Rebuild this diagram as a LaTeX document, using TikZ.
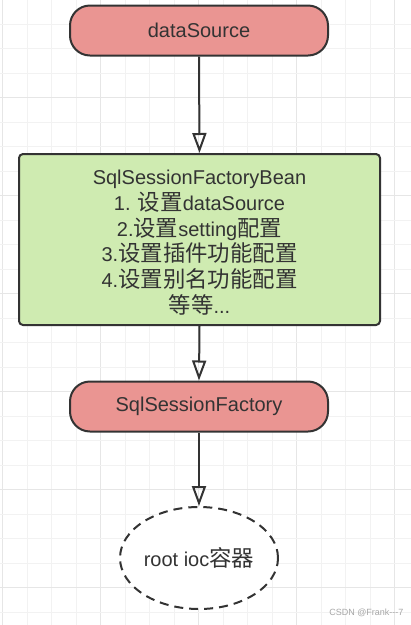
\documentclass[tikz,border=0pt]{standalone}
\usepackage{fontspec}
\setmainfont{Liberation Sans}
\newfontfamily\cjk[Scale=1.12]{Noto Sans CJK SC}
\usetikzlibrary{arrows.meta,shapes.geometric}
\definecolor{redfill}{HTML}{EA9592}
\definecolor{greenfill}{HTML}{CFEBB1}
\definecolor{ink}{HTML}{333333}
\definecolor{gridminor}{HTML}{F2F2F2}
\definecolor{gridmajor}{HTML}{E6E6E6}
\begin{document}
\begin{tikzpicture}[x=1pt,y=-1pt,
  txt/.style={text=ink,font=\fontsize{20}{25.7}\selectfont},
  pill/.style={txt,draw=ink,line width=2pt,fill=redfill,rounded corners=20pt,
     minimum width=258pt,minimum height=50pt,inner sep=0pt},
  bigbox/.style={txt,draw=ink,line width=2pt,fill=greenfill,rounded corners=4pt,
     minimum width=361pt,minimum height=171pt,inner sep=0pt,align=center},
  cloud/.style={txt,draw=ink,line width=2pt,fill=white,ellipse,dash pattern=on 9pt off 6pt,
     minimum width=158pt,minimum height=102pt,inner sep=0pt},
  flow/.style={draw=ink,line width=2pt,-{Triangle[open,length=20pt,width=14pt]}},
  wmark/.style={text=gray!70,font=\fontsize{9}{10}\selectfont}
]
\useasboundingbox (0,0) rectangle (411,625);
\fill[white] (0,0) rectangle (411,625);
% grid
\foreach \k in {0,...,16} {
  \pgfmathtruncatemacro{\m}{mod(\k,4)}
  \ifnum\m=0
    \draw[gridmajor,line width=1pt] ({2.7+24.5*\k},0) -- ({2.7+24.5*\k},625);
  \else
    \draw[gridminor,line width=1pt] ({2.7+24.5*\k},0) -- ({2.7+24.5*\k},625);
  \fi
}
\foreach \k in {1,...,25} {
  \pgfmathtruncatemacro{\m}{mod(\k,4)}
  \ifnum\m=0
    \draw[gridmajor,line width=1pt] (0,{24.5*\k-0.5}) -- (411,{24.5*\k-0.5});
  \else
    \draw[gridminor,line width=1pt] (0,{24.5*\k-0.5}) -- (411,{24.5*\k-0.5});
  \fi
}
% nodes
\node[pill] (ds) at (199,30.5) {dataSource};
\node[bigbox] (bean) at (199.5,239.5) {\rule{0pt}{20.5pt}SqlSessionFactoryBean\\1. {\cjk 设置}dataSource\\2.{\cjk 设置}setting{\cjk 配置}\\3.{\cjk 设置插件功能配置}\\4.{\cjk 设置别名功能配置}\\{\cjk 等等}...};
\node[pill] (ssf) at (199,406.5) {SqlSessionFactory};
\node[cloud] (ioc) at (199,558) {root ioc{\cjk 容器}};
% connectors
\draw[flow] (ds.south) -- (bean.north);
\draw[flow] (bean.south) -- (ssf.north);
\draw[flow] (ssf.south) -- (ioc.north);
% watermark
\node[wmark,anchor=east] (wm) at (407,613) {CSDN @Frank{-}{-}{-}7};
\end{tikzpicture}
\end{document}
